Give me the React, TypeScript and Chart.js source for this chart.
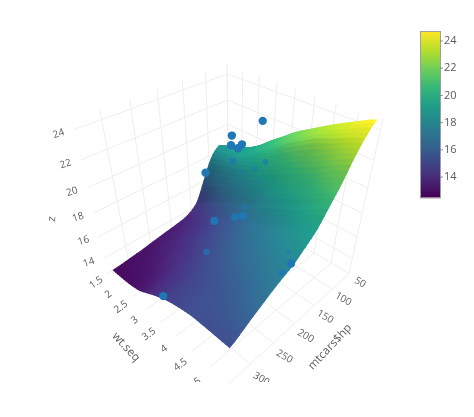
import React, { useEffect, useRef } from "react";
import { Chart, registerables } from "chart.js";

Chart.register(...registerables);

const wtSeq = [1.6, 1.95, 2.3, 2.65, 3, 3.35, 3.7, 4.05, 4.4, 4.75, 5.05, 5.42];
const hpSeq = [56, 80, 100, 120, 140, 165, 190, 215, 240, 270, 300, 335];
const zGrid = [
  [18.3, 18.6, 19, 19.6, 20.4, 21.15, 21.9, 22.5, 23.1, 23.65, 24.1, 24.6],
  [18.66, 18.85, 19, 19.4, 20, 20.6, 21.4, 22, 22.6, 23, 23.4, 23.8],
  [17.95, 18.2, 18.4, 18.7, 19.1, 19.6, 20.2, 20.8, 21.3, 21.8, 22.3, 22.8],
  [16.3, 16.7, 17.1, 17.5, 17.9, 18.4, 18.9, 19.5, 20, 20.5, 21.1, 21.6],
  [14.6, 15.1, 15.7, 16.2, 16.7, 17.2, 17.8, 18.4, 18.9, 19.4, 20, 20.6],
  [13.85, 14.2, 14.7, 15.2, 15.7, 16.2, 16.8, 17.3, 17.8, 18.3, 18.9, 19.4],
  [13.6, 13.9, 14.3, 14.8, 15.3, 15.8, 16.3, 16.8, 17.2, 17.7, 18.1, 18.6],
  [13.45, 13.7, 14.1, 14.5, 15, 15.4, 15.9, 16.3, 16.7, 17.1, 17.5, 17.9],
  [13.3, 13.5, 13.8, 14.2, 14.6, 15.1, 15.5, 15.9, 16.3, 16.6, 17, 17.45],
  [13.1, 13.25, 13.5, 13.9, 14.3, 14.7, 15.1, 15.4, 15.7, 16, 16.4, 16.8],
  [12.95, 13.05, 13.2, 13.5, 14, 14.45, 14.9, 15.2, 15.5, 15.6, 15.85, 16.1],
  [12.8, 12.85, 12.95, 13.2, 13.75, 14.3, 14.75, 15.05, 15.26, 15.3, 15.3, 15.3],
];

const pointWt = [2.86, 2.43, 2.32, 2.67, 2.53, 1.82, 1.9, 2.86, 2.1, 2.51, 2.66, 2.59, 3.12, 3.42, 3.02, 3.3, 2.94, 4.75, 5.37, 5.23, 3.55];
const pointHp = [68, 108, 102, 102, 101, 130, 66, 56, 56, 55, 58, 164, 152, 156, 120, 123.5, 208, 157, 213, 217, 335];
const pointZ = [22, 21, 20, 20.5, 20, 17.5, 17.5, 18.5, 16.5, 17.4, 16.5, 15, 16, 16.7, 16, 15, 13.8, 16, 17.9, 17, 14.8];

const wtTicks = [1.5, 2, 2.5, 3, 3.5, 4, 4.5, 5];
const hpTicks = [50, 100, 150, 200, 250, 300];
const zTicks = [14, 16, 18, 20, 22, 24];

const WT_RANGE = [1.5, 5.5];
const HP_RANGE = [50, 344];
const Z_RANGE = [12.5, 24.66];

const viridis = ["#440154", "#482878", "#3e4989", "#31688e", "#26828e", "#1f9e89", "#35b779", "#6ece58", "#b5de2b", "#fde725"];
const hexRgb = (h: string) => [1, 3, 5].map((i) => parseInt(h.slice(i, i + 2), 16));
const stops = viridis.map(hexRgb);
function colorFor(z: number, light = 1) {
  const t = Math.min(0.9999, Math.max(0, (z - Z_RANGE[0]) / (Z_RANGE[1] - Z_RANGE[0]))) * (stops.length - 1);
  const i = Math.floor(t);
  const f = t - i;
  const c = stops[i].map((a, k) => Math.min(255, Math.round((a + (stops[i + 1][k] - a) * f) * light)));
  return `rgb(${c[0]},${c[1]},${c[2]})`;
}

// camera: projective map of the normalised scene box onto the drawing plane
function project(wt: number, hp: number, z: number) {
  const u = (wt - WT_RANGE[0]) / (WT_RANGE[1] - WT_RANGE[0]);
  const v = (hp - HP_RANGE[0]) / (HP_RANGE[1] - HP_RANGE[0]);
  const w = (z - Z_RANGE[0]) / (Z_RANGE[1] - Z_RANGE[0]);
  const d = 1 - 0.177 * u - 0.177 * v - 0.185 * w;
  return {
    x: (60.9 * u - 141.6 * v - 43 * w + 228) / d,
    y: (24.3 * u + 24.3 * v - 151.5 * w + 202) / d,
  };
}

const cr = (p0: number, p1: number, p2: number, p3: number, t: number) =>
  0.5 * (2 * p1 + (p2 - p0) * t + (2 * p0 - 5 * p1 + 4 * p2 - p3) * t * t + (3 * p1 - p0 - 3 * p2 + p3) * t * t * t);
const lerpArr = (a: number[], t: number) => {
  const i = Math.min(a.length - 2, Math.floor(t));
  return a[i] + (a[i + 1] - a[i]) * (t - i);
};
const cl = (i: number, n: number) => Math.max(0, Math.min(n - 1, i));
function sampleZ(r: number, c: number) {
  const nr = zGrid.length, nc = zGrid[0].length;
  const ri = Math.min(nr - 2, Math.floor(r)), ci = Math.min(nc - 2, Math.floor(c));
  const tr = r - ri, tc = c - ci;
  const rows = [-1, 0, 1, 2].map((dr) => {
    const row = zGrid[cl(ri + dr, nr)];
    return cr(row[cl(ci - 1, nc)], row[cl(ci, nc)], row[cl(ci + 1, nc)], row[cl(ci + 2, nc)], tc);
  });
  return cr(rows[0], rows[1], rows[2], rows[3], tr);
}
const indexOf = (a: number[], x: number) => {
  if (x <= a[0]) return 0;
  for (let i = 0; i < a.length - 1; i++) if (x <= a[i + 1]) return i + (x - a[i]) / (a[i + 1] - a[i]);
  return a.length - 1;
};

const SUB = 4;
function buildSurface() {
  const nr = hpSeq.length, nc = wtSeq.length;
  const N = (nr - 1) * SUB, M = (nc - 1) * SUB;
  const vert = (i: number, j: number) => {
    const r = i / SUB, c = j / SUB;
    return { wt: lerpArr(wtSeq, c), hp: lerpArr(hpSeq, r), z: sampleZ(r, c) };
  };
  const out: any[] = [];
  for (let i = 0; i < N; i++) {
    for (let j = 0; j < M; j++) {
      const a = vert(i, j), b = vert(i, j + 1), c = vert(i + 1, j + 1), d = vert(i + 1, j);
      const zm = (a.z + b.z + c.z + d.z) / 4;
      const dv = ((c.z + d.z - a.z - b.z) / 2 / (Z_RANGE[1] - Z_RANGE[0])) / ((d.hp - a.hp) / (HP_RANGE[1] - HP_RANGE[0]));
      const steep = Math.max(0, Math.min(1.5, Math.abs(dv) - 0.6));
      const light = 1.06 - 0.16 * steep;
      const col = colorFor(zm, light);
      const pts = [a, b, c, d, a].map((p) => project(p.wt, p.hp, p.z));
      out.push({
        type: "line",
        data: pts,
        fill: "shape",
        backgroundColor: col,
        borderColor: col,
        borderWidth: 1.2,
        pointRadius: 0,
        order: 100000 - (i + j),
        parsing: false,
      });
    }
  }
  return out;
}

function buildGrid() {
  const [w0, w1] = WT_RANGE, [h0, h1] = HP_RANGE, [z0, z1] = Z_RANGE;
  const segs: { a: number[]; b: number[] }[] = [];
  zTicks.forEach((z) => {
    segs.push({ a: [w0, h0, z], b: [w0, h1, z] });
    segs.push({ a: [w0, h0, z], b: [w1, h0, z] });
  });
  hpTicks.forEach((h) => {
    segs.push({ a: [w0, h, z0], b: [w0, h, z1] });
    segs.push({ a: [w0, h, z0], b: [w1, h, z0] });
  });
  wtTicks.forEach((w) => {
    segs.push({ a: [w, h0, z0], b: [w, h0, z1] });
    segs.push({ a: [w, h0, z0], b: [w, h1, z0] });
  });
  segs.push({ a: [w1, h0, z0], b: [w1, h1, z0] });
  segs.push({ a: [w1, h0, z0], b: [w1, h0, z1] });
  return segs.map((s) => ({
    type: "line",
    data: [project(s.a[0], s.a[1], s.a[2]), project(s.b[0], s.b[1], s.b[2])],
    borderColor: "#eeeeee",
    borderWidth: 1,
    pointRadius: 0,
    fill: false,
    order: 200000,
    parsing: false,
  }));
}

function buildPoints() {
  const depth = pointWt.map((wt, i) => {
    const s = sampleZ(indexOf(hpSeq, pointHp[i]), indexOf(wtSeq, wt));
    return Math.max(0, s - pointZ[i]);
  });
  return {
    type: "scatter",
    data: pointWt.map((wt, i) => project(wt, pointHp[i], pointZ[i])),
    pointBackgroundColor: depth.map((d) => `rgba(31,119,180,${Math.max(0.3, 1 - d * 0.22)})`),
    pointBorderWidth: 0,
    pointRadius: depth.map((d) => Math.max(1.5, 4.2 - d * 0.8)),
    showLine: false,
    order: 0,
    parsing: false,
  };
}

const labelsPlugin = {
  id: "sceneLabels",
  afterDatasetsDraw(chart: any) {
    const { ctx, scales } = chart;
    const px = (p: { x: number; y: number }) => ({ x: scales.x.getPixelForValue(p.x), y: scales.y.getPixelForValue(p.y) });
    const text = (s: string, x: number, y: number, rot: number, size = 10) => {
      ctx.save();
      ctx.translate(x, y);
      ctx.rotate((rot * Math.PI) / 180);
      ctx.font = `${size}px "Open Sans"`;
      ctx.fillStyle = "#5a5a5a";
      ctx.textAlign = "center";
      ctx.textBaseline = "middle";
      ctx.fillText(s, 0, 0);
      ctx.restore();
    };
    ctx.save();
    ctx.beginPath();
    ctx.rect(0, 0, 474, 382);
    ctx.clip();
    zTicks.forEach((z) => {
      const p = px(project(WT_RANGE[0], HP_RANGE[1], z));
      text(String(z), p.x - 15, p.y + 4, -18);
    });
    wtTicks.forEach((w) => {
      const p = px(project(w, HP_RANGE[1], Z_RANGE[0]));
      const t = (w - WT_RANGE[0]) / (WT_RANGE[1] - WT_RANGE[0]);
      text(String(w), p.x - 11 - t, p.y + 9 + t * 6, -36);
    });
    hpTicks.forEach((h) => {
      const p = px(project(WT_RANGE[1], h, Z_RANGE[0]));
      const t = (h - HP_RANGE[0]) / (HP_RANGE[1] - HP_RANGE[0]);
      text(String(h), p.x + 11, p.y + 9 + t * 7, 30);
    });
    text("z", 52, 219, -82, 11);
    text("wt.seq", 126, 347, 47, 11.5);
    text("mtcars$hp", 330, 347, -47, 11.5);
    ctx.restore();

    // colour bar
    const bx = 421, bw = 19, top = 32, bottom = 197.5;
    const g = ctx.createLinearGradient(0, bottom, 0, top);
    viridis.forEach((c, i) => g.addColorStop(i / (viridis.length - 1), c));
    ctx.fillStyle = g;
    ctx.fillRect(bx, top, bw, bottom - top);
    ctx.strokeStyle = "#888";
    ctx.lineWidth = 0.8;
    ctx.strokeRect(bx - 0.5, top - 0.5, bw + 1, bottom - top + 1);
    const zy = (z: number) => bottom - ((z - Z_RANGE[0]) / (Z_RANGE[1] - Z_RANGE[0])) * (bottom - top);
    zTicks.forEach((z) => {
      ctx.strokeStyle = "#777";
      ctx.beginPath();
      ctx.moveTo(bx + bw, zy(z));
      ctx.lineTo(bx + bw + 3, zy(z));
      ctx.stroke();
      ctx.font = '11px "Open Sans"';
      ctx.fillStyle = "#5a5a5a";
      ctx.textAlign = "left";
      ctx.textBaseline = "middle";
      ctx.fillText(String(z), 444, zy(z));
    });
  },
};

export default function App() {
  const ref = useRef<HTMLCanvasElement | null>(null);
  useEffect(() => {
    const chart = new Chart(ref.current as HTMLCanvasElement, {
      type: "line",
      data: { datasets: [...buildGrid(), ...buildSurface(), buildPoints()] as any },
      options: {
        animation: false,
        responsive: false,
        normalized: true,
        layout: { padding: 0 },
        events: [],
        elements: { line: { tension: 0 } },
        plugins: { legend: { display: false }, tooltip: { enabled: false }, title: { display: false } },
        scales: {
          x: { type: "linear", display: false, min: 0, max: 474 },
          y: { type: "linear", display: false, min: 0, max: 417, reverse: true },
        },
      } as any,
      plugins: [labelsPlugin],
    });
    return () => chart.destroy();
  }, []);
  return (
    <div style={{ position: "fixed", left: 0, top: 0, width: 474, height: 417, background: "#fff" }}>
      <canvas ref={ref} width={474} height={417} style={{ display: "block" }} />
    </div>
  );
}
